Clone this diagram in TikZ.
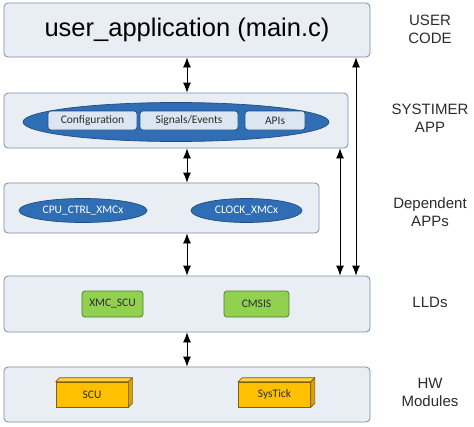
\documentclass[tikz,border=0pt]{standalone}
\usepackage{fontspec}
\setmainfont{Liberation Sans}
\newfontfamily\calibfont{Carlito}
\usetikzlibrary{arrows.meta,shapes.geometric}
\definecolor{LayerFill}{HTML}{E9EEF5}
\definecolor{LayerLine}{HTML}{7D8DA3}
\definecolor{AppBlue}{HTML}{2F6DB5}
\definecolor{AppLine}{HTML}{1F4E85}
\definecolor{PartFill}{HTML}{DCE6F2}
\definecolor{LldGreen}{HTML}{92D050}
\definecolor{LldLine}{HTML}{4F7F2A}
\definecolor{HwGold}{HTML}{FFC000}
\definecolor{HwLine}{HTML}{7F6000}
\definecolor{TxtGray}{HTML}{2B2B2B}
\newcommand{\hwblock}[4]{%
  \node[hwface] (#1) at (#2,#3) {#4};
  \filldraw[HwLine,fill=HwGold!75!white,line width=0.7pt,line join=round]
    (#1.north west) -- ([shift={(4,-4)}]#1.north west)
    -- ([shift={(4,-4)}]#1.north east) -- (#1.north east) -- cycle;
  \filldraw[HwLine,fill=HwGold!85!black,line width=0.7pt,line join=round]
    (#1.north east) -- ([shift={(4,-4)}]#1.north east)
    -- ([shift={(4,-4)}]#1.south east) -- (#1.south east) -- cycle;
}

\begin{document}
\begin{tikzpicture}[x=1pt,y=-1pt,
    layer/.style={draw=LayerLine,fill=LayerFill,line width=0.8pt,
                  rounded corners=4pt,minimum height=#1},
    layer/.default=55pt,
    tag/.style={align=center,font=\fontsize{15}{18}\selectfont,text=TxtGray},
    appoval/.style={ellipse,draw=AppLine,fill=AppBlue,line width=0.7pt,
                    inner sep=0pt,text=white,font=\calibfont\fontsize{11.5}{13}\selectfont},
    part/.style={draw=AppLine,fill=PartFill,rounded corners=3pt,line width=0.7pt,
                 minimum height=19pt,inner sep=0pt,text=TxtGray,
                 font=\calibfont\fontsize{11.5}{13}\selectfont},
    lldbox/.style={draw=LldLine,fill=LldGreen,rounded corners=3pt,line width=0.8pt,
                   minimum height=26pt,inner sep=0pt,text=TxtGray,
                   font=\calibfont\fontsize{11.5}{13}\selectfont},
    hwface/.style={draw=HwLine,fill=HwGold,line width=0.7pt,minimum width=72pt,
                   minimum height=25pt,inner sep=0pt,text=TxtGray,
                   font=\calibfont\fontsize{11.5}{13}\selectfont},
    dbl/.style={{Latex[length=10pt,width=8pt]}-{Latex[length=10pt,width=8pt]},
                line width=0.8pt}]
  \useasboundingbox (0,0) rectangle (474,426);

  % layers
  \node[layer=54pt,minimum width=366pt] (usr) at (187,30)
    {\fontsize{25.5}{30}\selectfont user\_application (main.c)};
  \node[layer,minimum width=344pt] (sys) at (176,120.5) {};
  \node[layer=50pt,minimum width=315pt] (dep) at (161.5,208) {};
  \node[layer=56pt,minimum width=366pt] (lld) at (187,304) {};
  \node[layer,minimum width=366pt] (hw) at (187,394.5) {};

  % systimer app
  \node[appoval,minimum width=306pt,minimum height=39pt] (sysoval) at (176,122) {};
  \node[part,minimum width=89pt] (cfg) at (92.5,120.5) {Configuration};
  \node[part,minimum width=98pt] (sig) at (189,120.5) {Signals/Events};
  \node[part,minimum width=60pt] (api) at (275,120.5) {APIs};

  % dependent apps
  \node[appoval,minimum width=128pt,minimum height=24pt] (cpu) at (83,210.5) {CPU\_CTRL\_XMCx};
  \node[appoval,minimum width=111pt,minimum height=24pt] (clk) at (246.5,210.5) {CLOCK\_XMCx};

  % llds
  \node[lldbox,minimum width=61pt] (xmc) at (112.5,304) {XMC\_SCU};
  \node[lldbox,minimum width=65pt] (cms) at (256.5,304) {CMSIS};

  % hw modules
  \hwblock{scu}{92}{394.5}{SCU}
  \hwblock{tick}{274.5}{394.5}{SysTick}

  % right side tags
  \node[tag] (tagusr) at (430,29) {USER\\CODE};
  \node[tag] (tagsys) at (430,118) {SYSTIMER\\APP};
  \node[tag] (tagdep) at (430,212.5) {Dependent\\APPs};
  \node[tag] (taglld) at (430,302) {LLDs};
  \node[tag] (taghw) at (430,392.5) {HW\\Modules};

  % connectors
  \coordinate (rfar) at (356,0);
  \coordinate (rnear) at (340,0);
  \draw[dbl] (usr.south) -- (usr.south |- sys.north);
  \draw[dbl] (sys.south -| usr.south) -- (dep.north -| usr.south);
  \draw[dbl] (dep.south -| usr.south) -- (lld.north);
  \draw[dbl] (lld.south) -- (hw.north);
  \draw[dbl] (usr.south -| rfar) -- (lld.north -| rfar);
  \draw[dbl] (sys.south -| rnear) -- (lld.north -| rnear);
\end{tikzpicture}
\end{document}
